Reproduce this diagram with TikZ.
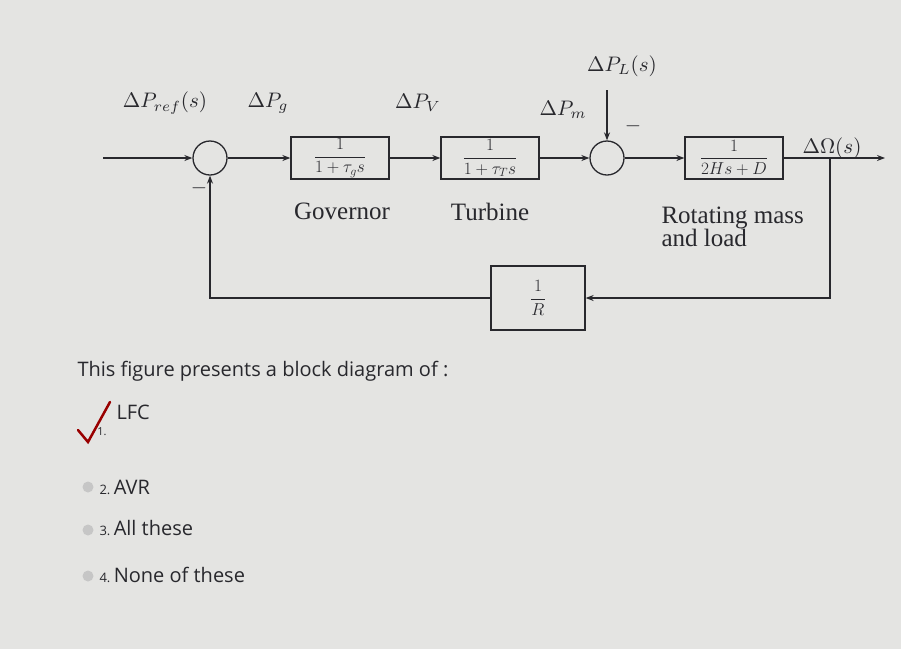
\documentclass[tikz,border=0pt]{standalone}
\usepackage{fontspec}
\setmainfont{Liberation Serif}
\newfontfamily\uifont{Open Sans}
\usetikzlibrary{arrows.meta}
\definecolor{bg}{RGB}{228,228,226}
\definecolor{ink}{RGB}{40,40,45}
\begin{document}
\begin{tikzpicture}[x=1pt,y=-1pt,
  blk/.style={draw=ink,line width=1.3pt,minimum width=#1,minimum height=42pt,inner sep=1pt,font=\fontsize{17}{18}\selectfont,text=ink},
  sumc/.style={draw=ink,circle,line width=1.3pt,minimum size=34pt,inner sep=0},
  sig/.style={draw=ink,line width=1.2pt,-{Stealth[length=8pt]}},
  lbl/.style={font=\fontsize{25}{22}\selectfont,text=ink},
  mlbl/.style={text=ink,scale=2.1,transform shape=false},
  ui/.style={font=\uifont\fontsize{20}{22}\selectfont,text=ink,anchor=west},
  radio/.style={fill=gray!45,circle,minimum size=11pt,inner sep=0}]
\fill[bg] (0,0) rectangle (901,649);
\useasboundingbox (0,0) rectangle (901,649);
\node[sumc] (s1) at (210,158) {};
\node[blk=98pt] (g) at (340,158) {$\displaystyle\frac{1}{1+\tau_g s}$};
\node[blk=98pt] (t) at (490,158) {$\displaystyle\frac{1}{1+\tau_T s}$};
\node[sumc] (s2) at (607,158) {};
\node[blk=98pt] (m) at (734,158) {$\displaystyle\frac{1}{2Hs+D}$};
\node[blk=94pt,minimum height=64pt] (r) at (538,298) {$\displaystyle\frac{1}{R}$};
\coordinate (in) at (103,158);
\coordinate (out) at (885,158);
\coordinate (tap) at (830,158);
\coordinate (lt) at (607,90);
\draw[sig] (in) -- (s1);
\draw[sig] (s1) -- (g);
\draw[sig] (g) -- (t);
\draw[sig] (t) -- (s2);
\draw[sig] (s2) -- (m);
\draw[sig] (m) -- (out);
\draw[sig] (tap) |- (r);
\draw[sig] (r) -| (s1);
\draw[sig] (lt) -- (s2);
\node[mlbl] (l1) at (165,103) {$\Delta P_{ref}(s)$};
\node[mlbl] (l2) at (268,103) {$\Delta P_g$};
\node[mlbl] (l3) at (418,103) {$\Delta P_V$};
\node[mlbl] (l4) at (563,110) {$\Delta P_m$};
\node[mlbl] (l5) at (622,66) {$\Delta P_L(s)$};
\node[mlbl] (l6) at (832,148) {$\Delta\Omega(s)$};
\node[mlbl] (m1) at (633,126) {$-$};
\node[mlbl] (m2) at (199,188) {$-$};
\node[lbl] (gl) at (342,211) {Governor};
\node[lbl] (tl) at (490,212) {Turbine};
\node[lbl,align=left,anchor=north west] (rl) at (658,203) {Rotating mass\\and load};
\node[ui] (q) at (74,371) {This figure presents a block diagram of :};
\draw[red!60!black,line width=2.5pt,line cap=round] (78,430) -- (88,442) -- (110,402);
\node[ui] (o1) at (113,412) {LFC};
\node[font=\uifont\fontsize{11}{11}\selectfont,text=ink] (n1) at (102,432) {1.};
\node[radio] (c2) at (88,487) {};
\node[ui] (o2) at (96,487) {{\fontsize{13}{13}\selectfont 2.}\,AVR};
\node[radio] (c3) at (88,530) {};
\node[ui] (o3) at (96,528) {{\fontsize{13}{13}\selectfont 3.}\,All these};
\node[radio] (c4) at (88,576) {};
\node[ui] (o4) at (96,575) {{\fontsize{13}{13}\selectfont 4.}\,None of these};
\end{tikzpicture}
\end{document}
